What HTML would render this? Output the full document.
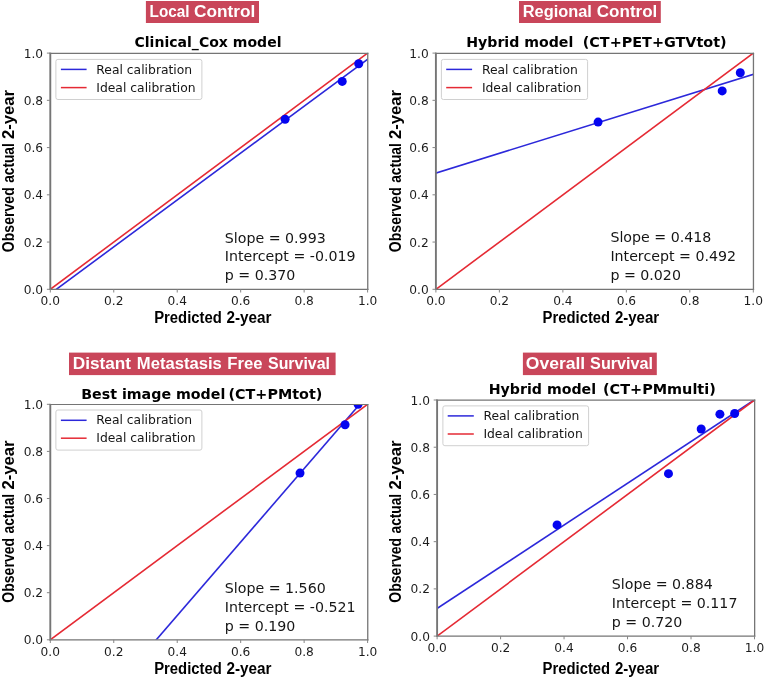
<!DOCTYPE html>
<html lang="en"><head><meta charset="utf-8"><title>Calibration plots</title>
<style>
html,body{margin:0;padding:0;background:#fff;}
body{width:766px;height:679px;overflow:hidden;}
svg{display:block;filter:blur(0.35px);}
.tk{font-family:"DejaVu Sans", "Liberation Sans", sans-serif;font-size:12.2px;fill:#1c1c1c;}
.lg{font-family:"DejaVu Sans", "Liberation Sans", sans-serif;font-size:12.35px;fill:#151515;}
.st{font-family:"DejaVu Sans", "Liberation Sans", sans-serif;font-size:14.2px;fill:#151515;}
.ti{font-family:"DejaVu Sans", "Liberation Sans", sans-serif;font-size:14px;font-weight:bold;fill:#000;}
.ax{font-family:"Liberation Sans", "DejaVu Sans", sans-serif;font-size:15.6px;font-weight:bold;fill:#000;}
.hd{font-family:"Liberation Sans", "DejaVu Sans", sans-serif;font-size:16.8px;font-weight:bold;fill:#fff;}
</style></head><body>
<svg width="766" height="679" viewBox="0 0 766 679">
<rect width="766" height="679" fill="#fff"/>
<g>
<clipPath id="c0"><rect x="50.3" y="53.1" width="317.3" height="236.2"/></clipPath>
<rect x="145.9" y="1" width="113.1" height="22" fill="#c9465a"/>
<text class="hd" y="16.7"><tspan x="149.6" textLength="39.9" lengthAdjust="spacingAndGlyphs">Local</tspan> <tspan x="194.1" textLength="61.3" lengthAdjust="spacingAndGlyphs">Control</tspan></text>
<text class="ti" y="47.4"><tspan x="134.5" textLength="147" lengthAdjust="spacingAndGlyphs">Clinical_Cox model</tspan></text>
<g clip-path="url(#c0)">
<line x1="-108.35" y1="411.06" x2="526.25" y2="-58.03" stroke="#2c28da" stroke-width="1.6"/>
<line x1="50.3" y1="289.3" x2="367.6" y2="53.1" stroke="#e52a34" stroke-width="1.6"/>
<circle cx="285.1" cy="119.24" r="4.5" fill="#0404f0"/>
<circle cx="342.22" cy="81.44" r="4.5" fill="#0404f0"/>
<circle cx="358.72" cy="63.73" r="4.5" fill="#0404f0"/>
</g>
<path d="M49.4 53.3H368.4M49.4 289.4H368.4" fill="none" stroke="#757575" stroke-width="1.2"/>
<path d="M50.3 52.7V290" fill="none" stroke="#757575" stroke-width="1.9"/>
<path d="M367.75 52.7V290" fill="none" stroke="#757575" stroke-width="1.3"/>
<line x1="50.3" y1="289.3" x2="50.3" y2="292.5" stroke="#858585" stroke-width="1"/>
<text class="tk" x="50.3" y="305.1" text-anchor="middle">0.0</text>
<line x1="46.9" y1="289.3" x2="50.3" y2="289.3" stroke="#858585" stroke-width="1"/>
<text class="tk" x="43.1" y="293.8" text-anchor="end">0.0</text>
<line x1="113.76" y1="289.3" x2="113.76" y2="292.5" stroke="#858585" stroke-width="1"/>
<text class="tk" x="113.76" y="305.1" text-anchor="middle">0.2</text>
<line x1="46.9" y1="242.06" x2="50.3" y2="242.06" stroke="#858585" stroke-width="1"/>
<text class="tk" x="43.1" y="246.56" text-anchor="end">0.2</text>
<line x1="177.22" y1="289.3" x2="177.22" y2="292.5" stroke="#858585" stroke-width="1"/>
<text class="tk" x="177.22" y="305.1" text-anchor="middle">0.4</text>
<line x1="46.9" y1="194.82" x2="50.3" y2="194.82" stroke="#858585" stroke-width="1"/>
<text class="tk" x="43.1" y="199.32" text-anchor="end">0.4</text>
<line x1="240.68" y1="289.3" x2="240.68" y2="292.5" stroke="#858585" stroke-width="1"/>
<text class="tk" x="240.68" y="305.1" text-anchor="middle">0.6</text>
<line x1="46.9" y1="147.58" x2="50.3" y2="147.58" stroke="#858585" stroke-width="1"/>
<text class="tk" x="43.1" y="152.08" text-anchor="end">0.6</text>
<line x1="304.14" y1="289.3" x2="304.14" y2="292.5" stroke="#858585" stroke-width="1"/>
<text class="tk" x="304.14" y="305.1" text-anchor="middle">0.8</text>
<line x1="46.9" y1="100.34" x2="50.3" y2="100.34" stroke="#858585" stroke-width="1"/>
<text class="tk" x="43.1" y="104.84" text-anchor="end">0.8</text>
<line x1="367.6" y1="289.3" x2="367.6" y2="292.5" stroke="#858585" stroke-width="1"/>
<text class="tk" x="367.6" y="305.1" text-anchor="middle">1.0</text>
<line x1="46.9" y1="53.1" x2="50.3" y2="53.1" stroke="#858585" stroke-width="1"/>
<text class="tk" x="43.1" y="57.6" text-anchor="end">1.0</text>
<rect x="55.9" y="59.4" width="146" height="40.1" rx="2" ry="2" fill="#fff" fill-opacity="0.8" stroke="#d0d0d0" stroke-width="1"/>
<line x1="60.9" y1="69.4" x2="86.6" y2="69.4" stroke="#2c28da" stroke-width="1.5"/>
<line x1="60.9" y1="87.6" x2="86.6" y2="87.6" stroke="#e52a34" stroke-width="1.5"/>
<text class="lg" x="96.3" y="73.6">Real calibration</text>
<text class="lg" x="96.3" y="91.8">Ideal calibration</text>
<text class="st" x="224.8" y="242.5">Slope = 0.993</text>
<text class="st" x="224.8" y="261.4">Intercept = -0.019</text>
<text class="st" x="224.8" y="280.3">p = 0.370</text>
<text class="ax" y="322.8"><tspan x="154.2" textLength="67.6" lengthAdjust="spacingAndGlyphs">Predicted</tspan> <tspan x="226.5" textLength="45" lengthAdjust="spacingAndGlyphs">2-year</tspan></text>
<text class="ax" transform="translate(13.8 251.5) rotate(-90)"><tspan x="-0.7" textLength="65" lengthAdjust="spacingAndGlyphs">Observed</tspan> <tspan x="68.7" textLength="39.5" lengthAdjust="spacingAndGlyphs">actual</tspan> <tspan x="112.5" textLength="49" lengthAdjust="spacingAndGlyphs">2-year</tspan></text>
</g>
<g>
<clipPath id="c1"><rect x="435.9" y="53.1" width="317.4" height="236.2"/></clipPath>
<rect x="519" y="1" width="141.8" height="22" fill="#c9465a"/>
<text class="hd" y="16.7"><tspan x="522.7" textLength="69.2" lengthAdjust="spacingAndGlyphs">Regional</tspan> <tspan x="596.8" textLength="60.5" lengthAdjust="spacingAndGlyphs">Control</tspan></text>
<text class="ti" y="47.4"><tspan x="466.2" textLength="107.1" lengthAdjust="spacingAndGlyphs">Hybrid model</tspan> <tspan x="582.7" textLength="144" lengthAdjust="spacingAndGlyphs">(CT+PET+GTVtot)</tspan></text>
<g clip-path="url(#c1)">
<line x1="277.2" y1="222.46" x2="912" y2="24.99" stroke="#2c28da" stroke-width="1.6"/>
<line x1="435.9" y1="289.3" x2="753.3" y2="53.1" stroke="#e52a34" stroke-width="1.6"/>
<circle cx="598.09" cy="122.07" r="4.5" fill="#0404f0"/>
<circle cx="722.19" cy="90.89" r="4.5" fill="#0404f0"/>
<circle cx="740.29" cy="72.7" r="4.5" fill="#0404f0"/>
</g>
<path d="M435 53.3H754.1M435 289.4H754.1" fill="none" stroke="#757575" stroke-width="1.2"/>
<path d="M435.9 52.7V290" fill="none" stroke="#757575" stroke-width="1.9"/>
<path d="M753.45 52.7V290" fill="none" stroke="#757575" stroke-width="1.3"/>
<line x1="435.9" y1="289.3" x2="435.9" y2="292.5" stroke="#858585" stroke-width="1"/>
<text class="tk" x="435.9" y="305.1" text-anchor="middle">0.0</text>
<line x1="432.5" y1="289.3" x2="435.9" y2="289.3" stroke="#858585" stroke-width="1"/>
<text class="tk" x="428.7" y="293.8" text-anchor="end">0.0</text>
<line x1="499.38" y1="289.3" x2="499.38" y2="292.5" stroke="#858585" stroke-width="1"/>
<text class="tk" x="499.38" y="305.1" text-anchor="middle">0.2</text>
<line x1="432.5" y1="242.06" x2="435.9" y2="242.06" stroke="#858585" stroke-width="1"/>
<text class="tk" x="428.7" y="246.56" text-anchor="end">0.2</text>
<line x1="562.86" y1="289.3" x2="562.86" y2="292.5" stroke="#858585" stroke-width="1"/>
<text class="tk" x="562.86" y="305.1" text-anchor="middle">0.4</text>
<line x1="432.5" y1="194.82" x2="435.9" y2="194.82" stroke="#858585" stroke-width="1"/>
<text class="tk" x="428.7" y="199.32" text-anchor="end">0.4</text>
<line x1="626.34" y1="289.3" x2="626.34" y2="292.5" stroke="#858585" stroke-width="1"/>
<text class="tk" x="626.34" y="305.1" text-anchor="middle">0.6</text>
<line x1="432.5" y1="147.58" x2="435.9" y2="147.58" stroke="#858585" stroke-width="1"/>
<text class="tk" x="428.7" y="152.08" text-anchor="end">0.6</text>
<line x1="689.82" y1="289.3" x2="689.82" y2="292.5" stroke="#858585" stroke-width="1"/>
<text class="tk" x="689.82" y="305.1" text-anchor="middle">0.8</text>
<line x1="432.5" y1="100.34" x2="435.9" y2="100.34" stroke="#858585" stroke-width="1"/>
<text class="tk" x="428.7" y="104.84" text-anchor="end">0.8</text>
<line x1="753.3" y1="289.3" x2="753.3" y2="292.5" stroke="#858585" stroke-width="1"/>
<text class="tk" x="753.3" y="305.1" text-anchor="middle">1.0</text>
<line x1="432.5" y1="53.1" x2="435.9" y2="53.1" stroke="#858585" stroke-width="1"/>
<text class="tk" x="428.7" y="57.6" text-anchor="end">1.0</text>
<rect x="441.4" y="59.4" width="146.2" height="40.1" rx="2" ry="2" fill="#fff" fill-opacity="0.8" stroke="#d0d0d0" stroke-width="1"/>
<line x1="446.2" y1="69.4" x2="472.1" y2="69.4" stroke="#2c28da" stroke-width="1.5"/>
<line x1="446.2" y1="87.6" x2="472.1" y2="87.6" stroke="#e52a34" stroke-width="1.5"/>
<text class="lg" x="481.9" y="73.6">Real calibration</text>
<text class="lg" x="481.9" y="91.8">Ideal calibration</text>
<text class="st" x="610.4" y="242.4">Slope = 0.418</text>
<text class="st" x="610.4" y="261.2">Intercept = 0.492</text>
<text class="st" x="610.4" y="280.1">p = 0.020</text>
<text class="ax" y="322.8"><tspan x="542.6" textLength="67.6" lengthAdjust="spacingAndGlyphs">Predicted</tspan> <tspan x="614.9" textLength="44.2" lengthAdjust="spacingAndGlyphs">2-year</tspan></text>
<text class="ax" transform="translate(401 251.5) rotate(-90)"><tspan x="-0.7" textLength="65" lengthAdjust="spacingAndGlyphs">Observed</tspan> <tspan x="68.7" textLength="39.5" lengthAdjust="spacingAndGlyphs">actual</tspan> <tspan x="112.5" textLength="49" lengthAdjust="spacingAndGlyphs">2-year</tspan></text>
</g>
<g>
<clipPath id="c2"><rect x="50.3" y="404.3" width="317.3" height="235.5"/></clipPath>
<rect x="69" y="352.6" width="266.6" height="22.5" fill="#c9465a"/>
<text class="hd" y="368.9"><tspan x="72.7" textLength="58.4" lengthAdjust="spacingAndGlyphs">Distant</tspan> <tspan x="136.8" textLength="85" lengthAdjust="spacingAndGlyphs">Metastasis</tspan> <tspan x="227.3" textLength="35.2" lengthAdjust="spacingAndGlyphs">Free</tspan> <tspan x="268" textLength="62" lengthAdjust="spacingAndGlyphs">Survival</tspan></text>
<text class="ti" y="398.6"><tspan x="81.2" textLength="144.1" lengthAdjust="spacingAndGlyphs">Best image model</tspan> <tspan x="228.5" textLength="93.8" lengthAdjust="spacingAndGlyphs">(CT+PMtot)</tspan></text>
<g clip-path="url(#c2)">
<line x1="-108.35" y1="946.19" x2="526.25" y2="211.43" stroke="#2c28da" stroke-width="1.6"/>
<line x1="50.3" y1="639.8" x2="367.6" y2="404.3" stroke="#e52a34" stroke-width="1.6"/>
<circle cx="300.02" cy="473.07" r="4.5" fill="#0404f0"/>
<circle cx="345.07" cy="424.79" r="4.5" fill="#0404f0"/>
<circle cx="358.08" cy="404.3" r="4.5" fill="#0404f0"/>
</g>
<path d="M49.4 404.5H368.4M49.4 639.9H368.4" fill="none" stroke="#757575" stroke-width="1.2"/>
<path d="M50.3 403.9V640.5" fill="none" stroke="#757575" stroke-width="1.9"/>
<path d="M367.75 403.9V640.5" fill="none" stroke="#757575" stroke-width="1.3"/>
<line x1="50.3" y1="639.8" x2="50.3" y2="643" stroke="#858585" stroke-width="1"/>
<text class="tk" x="50.3" y="655.6" text-anchor="middle">0.0</text>
<line x1="46.9" y1="639.8" x2="50.3" y2="639.8" stroke="#858585" stroke-width="1"/>
<text class="tk" x="43.1" y="644.3" text-anchor="end">0.0</text>
<line x1="113.76" y1="639.8" x2="113.76" y2="643" stroke="#858585" stroke-width="1"/>
<text class="tk" x="113.76" y="655.6" text-anchor="middle">0.2</text>
<line x1="46.9" y1="592.7" x2="50.3" y2="592.7" stroke="#858585" stroke-width="1"/>
<text class="tk" x="43.1" y="597.2" text-anchor="end">0.2</text>
<line x1="177.22" y1="639.8" x2="177.22" y2="643" stroke="#858585" stroke-width="1"/>
<text class="tk" x="177.22" y="655.6" text-anchor="middle">0.4</text>
<line x1="46.9" y1="545.6" x2="50.3" y2="545.6" stroke="#858585" stroke-width="1"/>
<text class="tk" x="43.1" y="550.1" text-anchor="end">0.4</text>
<line x1="240.68" y1="639.8" x2="240.68" y2="643" stroke="#858585" stroke-width="1"/>
<text class="tk" x="240.68" y="655.6" text-anchor="middle">0.6</text>
<line x1="46.9" y1="498.5" x2="50.3" y2="498.5" stroke="#858585" stroke-width="1"/>
<text class="tk" x="43.1" y="503" text-anchor="end">0.6</text>
<line x1="304.14" y1="639.8" x2="304.14" y2="643" stroke="#858585" stroke-width="1"/>
<text class="tk" x="304.14" y="655.6" text-anchor="middle">0.8</text>
<line x1="46.9" y1="451.4" x2="50.3" y2="451.4" stroke="#858585" stroke-width="1"/>
<text class="tk" x="43.1" y="455.9" text-anchor="end">0.8</text>
<line x1="367.6" y1="639.8" x2="367.6" y2="643" stroke="#858585" stroke-width="1"/>
<text class="tk" x="367.6" y="655.6" text-anchor="middle">1.0</text>
<line x1="46.9" y1="404.3" x2="50.3" y2="404.3" stroke="#858585" stroke-width="1"/>
<text class="tk" x="43.1" y="408.8" text-anchor="end">1.0</text>
<rect x="55.9" y="410" width="146" height="40.1" rx="2" ry="2" fill="#fff" fill-opacity="0.8" stroke="#d0d0d0" stroke-width="1"/>
<line x1="60.9" y1="420.3" x2="86.6" y2="420.3" stroke="#2c28da" stroke-width="1.5"/>
<line x1="60.9" y1="438.2" x2="86.6" y2="438.2" stroke="#e52a34" stroke-width="1.5"/>
<text class="lg" x="96.3" y="424.4">Real calibration</text>
<text class="lg" x="96.3" y="442.4">Ideal calibration</text>
<text class="st" x="224.8" y="593.1">Slope = 1.560</text>
<text class="st" x="224.8" y="611.9">Intercept = -0.521</text>
<text class="st" x="224.8" y="630.7">p = 0.190</text>
<text class="ax" y="673.9"><tspan x="154.2" textLength="67.6" lengthAdjust="spacingAndGlyphs">Predicted</tspan> <tspan x="226.5" textLength="45" lengthAdjust="spacingAndGlyphs">2-year</tspan></text>
<text class="ax" transform="translate(13.8 602.1) rotate(-90)"><tspan x="-0.7" textLength="65" lengthAdjust="spacingAndGlyphs">Observed</tspan> <tspan x="68.7" textLength="39.5" lengthAdjust="spacingAndGlyphs">actual</tspan> <tspan x="112.5" textLength="49" lengthAdjust="spacingAndGlyphs">2-year</tspan></text>
</g>
<g>
<clipPath id="c3"><rect x="437.1" y="400" width="317.4" height="236.1"/></clipPath>
<rect x="522.9" y="352.6" width="133.9" height="22.5" fill="#c9465a"/>
<text class="hd" y="368.9"><tspan x="525.8" textLength="59.4" lengthAdjust="spacingAndGlyphs">Overall</tspan> <tspan x="590.1" textLength="63" lengthAdjust="spacingAndGlyphs">Survival</tspan></text>
<text class="ti" y="394.3"><tspan x="488.7" textLength="107.4" lengthAdjust="spacingAndGlyphs">Hybrid model</tspan> <tspan x="603" textLength="112.8" lengthAdjust="spacingAndGlyphs">(CT+PMmulti)</tspan></text>
<g clip-path="url(#c3)">
<line x1="278.4" y1="712.83" x2="913.2" y2="295.41" stroke="#2c28da" stroke-width="1.6"/>
<line x1="437.1" y1="636.1" x2="754.5" y2="400" stroke="#e52a34" stroke-width="1.6"/>
<circle cx="557.08" cy="524.9" r="4.5" fill="#0404f0"/>
<circle cx="668.48" cy="473.66" r="4.5" fill="#0404f0"/>
<circle cx="701.18" cy="429.04" r="4.5" fill="#0404f0"/>
<circle cx="719.9" cy="414.17" r="4.5" fill="#0404f0"/>
<circle cx="734.69" cy="413.46" r="4.5" fill="#0404f0"/>
</g>
<path d="M436.2 400.2H755.3M436.2 636.2H755.3" fill="none" stroke="#757575" stroke-width="1.2"/>
<path d="M437.1 399.6V636.8" fill="none" stroke="#757575" stroke-width="1.9"/>
<path d="M754.65 399.6V636.8" fill="none" stroke="#757575" stroke-width="1.3"/>
<line x1="437.1" y1="636.1" x2="437.1" y2="639.3" stroke="#858585" stroke-width="1"/>
<text class="tk" x="437.1" y="651.9" text-anchor="middle">0.0</text>
<line x1="433.7" y1="636.1" x2="437.1" y2="636.1" stroke="#858585" stroke-width="1"/>
<text class="tk" x="429.9" y="640.6" text-anchor="end">0.0</text>
<line x1="500.58" y1="636.1" x2="500.58" y2="639.3" stroke="#858585" stroke-width="1"/>
<text class="tk" x="500.58" y="651.9" text-anchor="middle">0.2</text>
<line x1="433.7" y1="588.88" x2="437.1" y2="588.88" stroke="#858585" stroke-width="1"/>
<text class="tk" x="429.9" y="593.38" text-anchor="end">0.2</text>
<line x1="564.06" y1="636.1" x2="564.06" y2="639.3" stroke="#858585" stroke-width="1"/>
<text class="tk" x="564.06" y="651.9" text-anchor="middle">0.4</text>
<line x1="433.7" y1="541.66" x2="437.1" y2="541.66" stroke="#858585" stroke-width="1"/>
<text class="tk" x="429.9" y="546.16" text-anchor="end">0.4</text>
<line x1="627.54" y1="636.1" x2="627.54" y2="639.3" stroke="#858585" stroke-width="1"/>
<text class="tk" x="627.54" y="651.9" text-anchor="middle">0.6</text>
<line x1="433.7" y1="494.44" x2="437.1" y2="494.44" stroke="#858585" stroke-width="1"/>
<text class="tk" x="429.9" y="498.94" text-anchor="end">0.6</text>
<line x1="691.02" y1="636.1" x2="691.02" y2="639.3" stroke="#858585" stroke-width="1"/>
<text class="tk" x="691.02" y="651.9" text-anchor="middle">0.8</text>
<line x1="433.7" y1="447.22" x2="437.1" y2="447.22" stroke="#858585" stroke-width="1"/>
<text class="tk" x="429.9" y="451.72" text-anchor="end">0.8</text>
<line x1="754.5" y1="636.1" x2="754.5" y2="639.3" stroke="#858585" stroke-width="1"/>
<text class="tk" x="754.5" y="651.9" text-anchor="middle">1.0</text>
<line x1="433.7" y1="400" x2="437.1" y2="400" stroke="#858585" stroke-width="1"/>
<text class="tk" x="429.9" y="404.5" text-anchor="end">1.0</text>
<rect x="442.9" y="405.9" width="145.7" height="39.8" rx="2" ry="2" fill="#fff" fill-opacity="0.8" stroke="#d0d0d0" stroke-width="1"/>
<line x1="447.7" y1="415.9" x2="473.8" y2="415.9" stroke="#2c28da" stroke-width="1.5"/>
<line x1="447.7" y1="434" x2="473.8" y2="434" stroke="#e52a34" stroke-width="1.5"/>
<text class="lg" x="483.4" y="420">Real calibration</text>
<text class="lg" x="483.4" y="438.2">Ideal calibration</text>
<text class="st" x="611.8" y="588.9">Slope = 0.884</text>
<text class="st" x="611.8" y="607.9">Intercept = 0.117</text>
<text class="st" x="611.8" y="626.7">p = 0.720</text>
<text class="ax" y="673.9"><tspan x="542.6" textLength="67.6" lengthAdjust="spacingAndGlyphs">Predicted</tspan> <tspan x="614.9" textLength="44.2" lengthAdjust="spacingAndGlyphs">2-year</tspan></text>
<text class="ax" transform="translate(401 602.1) rotate(-90)"><tspan x="-0.7" textLength="65" lengthAdjust="spacingAndGlyphs">Observed</tspan> <tspan x="68.7" textLength="39.5" lengthAdjust="spacingAndGlyphs">actual</tspan> <tspan x="112.5" textLength="49" lengthAdjust="spacingAndGlyphs">2-year</tspan></text>
</g>
</svg></body></html>
